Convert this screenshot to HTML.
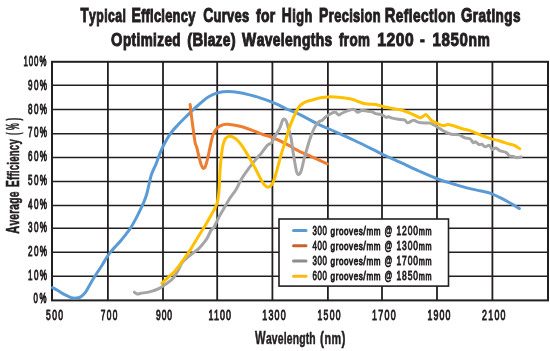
<!DOCTYPE html>
<html><head><meta charset="utf-8"><style>
html,body{margin:0;padding:0;background:#fff;width:550px;height:351px;overflow:hidden}
svg{display:block;font-family:"Liberation Sans", sans-serif;will-change:transform}
</style></head><body>
<svg width="550" height="351" viewBox="0 0 550 351">
<line x1="107.9" y1="61.8" x2="107.9" y2="300.4" stroke="#231f20" stroke-width="1.8"/>
<line x1="163.0" y1="61.8" x2="163.0" y2="300.4" stroke="#231f20" stroke-width="1.8"/>
<line x1="217.2" y1="61.8" x2="217.2" y2="300.4" stroke="#231f20" stroke-width="1.8"/>
<line x1="272.4" y1="61.8" x2="272.4" y2="300.4" stroke="#231f20" stroke-width="1.8"/>
<line x1="327.9" y1="61.8" x2="327.9" y2="300.4" stroke="#231f20" stroke-width="1.8"/>
<line x1="382.0" y1="61.8" x2="382.0" y2="300.4" stroke="#231f20" stroke-width="1.8"/>
<line x1="437.0" y1="61.8" x2="437.0" y2="300.4" stroke="#231f20" stroke-width="1.8"/>
<line x1="492.4" y1="61.8" x2="492.4" y2="300.4" stroke="#231f20" stroke-width="1.8"/>
<line x1="52" y1="85.3" x2="548" y2="85.3" stroke="#231f20" stroke-width="1.5"/>
<line x1="52" y1="109.4" x2="548" y2="109.4" stroke="#231f20" stroke-width="1.5"/>
<line x1="52" y1="133.8" x2="548" y2="133.8" stroke="#231f20" stroke-width="1.5"/>
<line x1="52" y1="157.4" x2="548" y2="157.4" stroke="#231f20" stroke-width="1.5"/>
<line x1="52" y1="181.4" x2="548" y2="181.4" stroke="#231f20" stroke-width="1.5"/>
<line x1="52" y1="205.4" x2="548" y2="205.4" stroke="#231f20" stroke-width="1.5"/>
<line x1="52" y1="228.3" x2="548" y2="228.3" stroke="#231f20" stroke-width="1.5"/>
<line x1="52" y1="252.3" x2="548" y2="252.3" stroke="#231f20" stroke-width="1.5"/>
<line x1="52" y1="276.3" x2="548" y2="276.3" stroke="#231f20" stroke-width="1.5"/>
<rect x="52" y="61.8" width="496" height="238.6" fill="none" stroke="#231f20" stroke-width="2"/>
<path d="M52.5,287.6 C53.5,288.1 56.3,289.6 58.3,290.8 C60.3,292.0 62.6,293.5 64.7,294.6 C66.8,295.7 69.2,297.0 71.1,297.6 C73.0,298.2 74.6,298.2 76.2,298.1 C77.8,298.0 79.2,297.8 80.7,296.9 C82.2,296.0 83.8,294.5 85.2,292.7 C86.6,290.9 87.7,288.6 89.0,286.3 C90.3,284.1 90.8,282.8 93.0,279.2 C95.2,275.6 100.0,268.4 102.2,265.0 C104.4,261.6 104.6,260.6 106.0,258.5 C107.4,256.4 108.7,254.3 110.5,252.1 C112.3,249.8 115.1,247.0 116.9,245.0 C118.7,243.0 119.9,241.8 121.4,240.0 C122.9,238.2 124.5,236.1 126.0,234.2 C127.5,232.2 128.8,230.8 130.4,228.3 C132.0,225.8 133.8,222.6 135.5,219.4 C137.2,216.2 139.3,211.9 140.6,209.1 C141.9,206.3 142.4,205.4 143.5,202.8 C144.6,200.2 145.6,198.1 146.9,193.5 C148.2,188.9 149.8,179.8 151.3,175.0 C152.8,170.2 154.4,168.0 155.8,164.6 C157.2,161.2 158.2,157.8 159.6,154.4 C161.0,151.0 162.3,147.8 164.1,144.3 C165.9,140.8 168.2,136.6 170.6,133.3 C173.0,130.0 176.0,127.0 178.3,124.4 C180.7,121.9 182.7,120.0 184.7,118.0 C186.7,116.0 188.6,114.1 190.5,112.3 C192.4,110.5 194.1,109.0 196.0,107.2 C197.9,105.5 199.8,103.6 202.0,101.8 C204.2,100.0 206.4,98.0 209.1,96.5 C211.8,95.0 214.8,93.5 218.0,92.7 C221.2,91.9 224.8,91.5 228.2,91.5 C231.6,91.5 235.0,92.0 238.4,92.5 C241.8,93.0 244.9,93.7 248.5,94.6 C252.1,95.5 255.5,96.3 260.0,97.8 C264.5,99.3 271.0,101.6 275.6,103.6 C280.2,105.5 283.5,107.7 287.6,109.5 C291.7,111.3 295.3,112.3 300.0,114.6 C304.7,116.9 311.4,120.8 316.0,123.1 C320.6,125.4 321.5,125.6 327.9,128.5 C334.3,131.4 345.3,136.2 354.5,140.5 C363.7,144.8 375.2,150.8 382.9,154.5 C390.5,158.2 394.2,159.6 400.4,162.4 C406.6,165.2 413.6,168.7 420.0,171.5 C426.4,174.3 433.7,177.5 439.1,179.5 C444.5,181.5 447.7,182.3 452.5,183.7 C457.3,185.1 462.9,186.9 467.7,188.1 C472.5,189.3 477.3,190.1 481.1,191.0 C484.9,191.9 487.4,192.2 490.6,193.3 C493.8,194.4 497.0,196.1 500.2,197.7 C503.4,199.3 506.5,201.0 509.7,202.8 C512.9,204.6 517.7,207.6 519.3,208.6" fill="none" stroke="#5b9bd5" stroke-width="3" stroke-linecap="round" stroke-linejoin="round"/>
<path d="M190.1,104.4 C190.3,106.1 190.8,110.4 191.3,114.7 C191.8,119.0 192.7,125.4 193.3,130.1 C194.0,134.8 194.6,140.1 195.2,143.0 C195.8,145.9 196.2,145.2 196.8,147.5 C197.4,149.8 198.2,153.8 199.0,156.8 C199.8,159.9 200.8,163.8 201.6,165.8 C202.3,167.8 202.9,168.5 203.5,168.6 C204.1,168.7 204.8,167.9 205.4,166.4 C206.1,164.9 206.7,162.5 207.4,159.4 C208.2,156.3 209.0,152.0 209.9,147.8 C210.8,143.7 211.8,137.9 213.1,134.5 C214.4,131.1 216.0,129.1 217.6,127.5 C219.2,125.9 221.0,125.4 222.7,124.9 C224.4,124.4 224.9,124.0 228.0,124.3 C231.1,124.6 236.6,125.3 241.1,126.5 C245.6,127.7 251.5,130.2 255.2,131.5 C258.8,132.8 260.1,133.5 263.0,134.5 C265.9,135.5 268.6,136.0 272.3,137.5 C276.0,139.0 281.1,141.2 285.1,143.3 C289.2,145.4 293.2,148.0 296.6,149.8 C300.0,151.6 302.0,152.5 305.6,154.2 C309.2,155.9 314.9,158.2 318.5,159.8 C322.1,161.4 325.8,163.1 327.3,163.8" fill="none" stroke="#ed7d31" stroke-width="3" stroke-linecap="round" stroke-linejoin="round"/>
<path d="M134.4,292.2 C134.9,292.5 136.1,293.9 137.2,294.1 C138.3,294.3 139.1,293.5 140.8,293.2 C142.5,292.9 145.1,292.8 147.2,292.4 C149.3,292.0 151.7,291.2 153.6,290.6 C155.5,290.0 156.9,289.6 158.8,288.6 C160.7,287.6 162.8,286.3 165.1,284.6 C167.4,282.9 170.5,281.2 172.8,278.5 C175.2,275.8 177.7,270.8 179.2,268.2 C180.7,265.6 180.5,264.8 181.8,263.1 C183.1,261.4 185.0,259.7 186.9,258.0 C188.8,256.3 191.4,254.3 193.3,252.8 C195.2,251.3 196.8,250.4 198.5,248.8 C200.2,247.2 202.1,245.0 203.5,243.2 C204.9,241.4 205.9,240.2 207.2,238.1 C208.4,236.0 209.9,232.2 211.0,230.4 C212.1,228.6 212.7,229.4 214.0,227.2 C215.3,224.9 217.4,220.1 219.1,216.9 C220.8,213.7 222.5,210.9 224.2,207.9 C225.9,204.9 227.5,202.0 229.4,199.0 C231.3,196.0 233.8,193.2 235.8,190.0 C237.8,186.8 239.7,182.2 241.2,179.5 C242.7,176.8 243.5,175.8 245.0,173.7 C246.5,171.6 248.5,168.8 250.1,166.7 C251.7,164.6 253.0,162.8 254.6,160.9 C256.2,159.0 258.5,156.5 259.7,155.1 C260.9,153.7 261.0,153.6 262.0,152.3 C263.0,151.0 264.7,148.5 265.8,147.2 C266.9,145.9 267.5,145.2 268.4,144.6 C269.3,143.9 270.1,144.2 271.0,143.3 C271.9,142.5 272.6,141.0 273.5,139.5 C274.4,138.0 275.0,136.3 276.1,134.4 C277.2,132.5 278.8,130.2 279.9,127.9 C281.0,125.6 281.8,121.8 282.5,120.3 C283.2,118.8 283.8,119.0 284.4,119.2 C285.0,119.4 285.8,120.0 286.4,121.5 C287.0,123.0 287.6,125.3 288.3,127.9 C289.0,130.5 290.1,133.2 290.8,136.9 C291.6,140.6 292.2,146.2 292.8,150.3 C293.4,154.5 294.1,158.2 294.7,161.8 C295.3,165.4 296.0,170.0 296.7,172.1 C297.4,174.2 297.9,174.8 298.6,174.6 C299.4,174.4 300.4,173.2 301.2,170.8 C302.0,168.5 302.8,164.1 303.7,160.5 C304.6,156.9 305.8,152.7 306.9,149.0 C308.0,145.3 308.9,141.9 310.1,138.5 C311.3,135.1 312.8,131.1 314.2,128.3 C315.6,125.5 317.4,123.2 318.7,121.9 C320.0,120.6 320.7,121.4 321.9,120.6 C323.1,119.8 324.3,118.0 325.8,116.8 C327.3,115.6 329.3,114.3 330.9,113.6 C332.5,112.8 334.1,112.1 335.4,112.3 C336.7,112.5 337.4,114.8 338.6,114.9 C339.8,115.0 340.7,113.8 342.4,113.0 C344.1,112.2 346.9,111.0 348.8,110.4 C350.7,109.8 352.3,109.1 353.8,109.4 C355.3,109.7 356.4,112.1 357.7,112.3 C359.0,112.5 360.0,110.8 361.5,110.6 C363.0,110.4 365.0,110.8 366.7,111.0 C368.4,111.2 370.3,111.3 371.8,111.7 C373.3,112.1 374.3,113.2 375.6,113.6 C376.9,114.0 378.2,113.9 379.5,114.2 C380.8,114.5 382.2,115.0 383.3,115.5 C384.4,116.0 385.0,117.2 385.9,117.4 C386.8,117.6 387.4,116.7 388.5,116.8 C389.6,116.9 390.7,117.7 392.3,118.1 C393.9,118.5 396.1,118.9 398.1,119.2 C400.1,119.5 402.9,119.3 404.5,119.9 C406.1,120.5 406.2,122.7 407.7,122.8 C409.2,122.9 411.7,120.4 413.5,120.3 C415.3,120.2 416.5,121.9 418.6,122.4 C420.7,122.9 424.4,123.0 426.3,123.1 C428.2,123.2 428.9,122.8 430.2,123.1 C431.5,123.4 432.4,124.1 434.0,125.0 C435.6,125.9 438.0,127.4 439.8,128.5 C441.6,129.6 443.1,130.8 445.0,131.7 C446.9,132.6 449.0,133.7 451.4,134.2 C453.8,134.7 457.2,134.5 459.1,134.9 C461.0,135.3 461.8,136.3 462.9,136.8 C464.0,137.3 464.3,137.8 465.5,138.1 C466.7,138.4 468.7,137.9 470.0,138.7 C471.3,139.4 472.2,142.1 473.2,142.6 C474.1,143.1 474.8,141.6 475.7,141.9 C476.6,142.2 477.9,144.1 478.9,144.5 C479.9,144.9 480.8,143.8 481.8,144.2 C482.8,144.6 483.8,146.6 485.1,146.8 C486.4,147.0 488.3,144.9 489.5,145.3 C490.7,145.7 491.0,148.9 492.1,149.4 C493.2,149.9 494.6,147.9 495.9,148.1 C497.2,148.3 498.1,149.8 499.8,150.6 C501.5,151.3 504.6,151.7 506.2,152.6 C507.8,153.5 508.2,155.2 509.4,155.8 C510.6,156.4 512.1,156.1 513.3,156.4 C514.5,156.7 515.2,157.6 516.5,157.7 C517.8,157.8 520.2,157.2 520.9,157.1" fill="none" stroke="#a5a5a5" stroke-width="3" stroke-linecap="round" stroke-linejoin="round"/>
<path d="M161.9,283.3 C162.9,282.4 165.7,279.7 167.7,277.8 C169.7,275.9 172.2,274.1 174.1,272.1 C176.0,270.1 177.3,268.2 179.2,265.6 C181.1,263.0 183.7,259.4 185.6,256.7 C187.5,254.0 188.4,252.9 190.5,249.6 C192.6,246.3 195.8,240.7 198.2,236.8 C200.5,233.0 202.6,229.8 204.6,226.5 C206.6,223.2 208.3,220.1 210.1,216.9 C211.9,213.7 214.0,210.1 215.3,207.3 C216.6,204.5 217.2,203.5 217.8,200.3 C218.5,197.1 218.8,192.6 219.2,188.0 C219.5,183.4 219.6,178.1 219.9,173.0 C220.2,167.9 220.7,162.2 221.2,157.5 C221.7,152.8 222.3,147.9 223.1,144.7 C223.8,141.5 224.5,139.7 225.7,138.3 C226.9,136.9 228.5,136.2 230.2,136.3 C231.9,136.4 234.1,137.5 235.9,138.9 C237.7,140.3 239.4,142.4 241.1,144.7 C242.8,146.9 244.5,149.6 246.2,152.4 C247.9,155.2 249.8,158.7 251.3,161.3 C252.8,163.9 253.6,165.2 255.1,168.0 C256.6,170.8 258.8,175.4 260.3,178.2 C261.8,181.0 262.8,183.1 264.1,184.6 C265.4,186.1 266.6,187.2 267.9,187.2 C269.2,187.2 270.6,186.3 271.8,184.6 C273.0,182.9 273.9,180.1 275.0,176.9 C276.1,173.7 277.1,169.2 278.2,165.4 C279.3,161.6 280.2,157.7 281.4,153.8 C282.5,149.9 283.9,146.1 285.1,142.0 C286.4,137.9 287.6,133.0 288.9,129.2 C290.2,125.4 291.1,122.7 292.8,119.0 C294.5,115.3 296.9,109.9 298.8,107.2 C300.7,104.5 301.9,103.9 304.0,102.7 C306.1,101.5 308.9,100.9 311.7,100.1 C314.5,99.3 317.8,98.3 320.6,97.8 C323.4,97.3 325.3,97.0 328.3,96.9 C331.3,96.8 335.0,97.0 338.6,97.3 C342.2,97.6 347.0,98.2 350.0,98.8 C353.0,99.4 354.3,100.0 356.4,100.8 C358.5,101.5 360.7,102.7 362.8,103.3 C364.9,103.9 367.1,104.0 369.2,104.2 C371.3,104.4 373.7,104.2 375.6,104.5 C377.5,104.8 379.1,105.5 380.8,105.9 C382.5,106.4 383.9,106.8 385.9,107.2 C387.9,107.6 390.8,108.1 393.0,108.5 C395.2,108.9 397.3,109.1 399.4,109.6 C401.5,110.1 403.7,110.8 405.8,111.5 C407.9,112.2 409.9,113.1 412.2,114.1 C414.5,115.1 418.2,117.3 419.9,117.7 C421.6,118.1 421.5,117.2 422.5,116.7 C423.5,116.2 424.7,114.6 425.7,114.6 C426.7,114.6 427.3,115.7 428.3,116.7 C429.3,117.7 430.3,119.5 431.5,120.5 C432.7,121.5 433.9,121.7 435.3,122.4 C436.7,123.1 438.4,124.1 439.8,124.6 C441.2,125.1 442.3,125.6 443.7,125.6 C445.1,125.6 446.3,124.4 448.2,124.5 C450.1,124.6 453.0,125.6 455.2,126.3 C457.4,127.0 459.2,127.8 461.6,128.5 C464.0,129.2 467.0,129.7 469.3,130.4 C471.6,131.2 473.2,132.0 475.7,133.0 C478.2,134.0 481.7,135.5 484.4,136.5 C487.1,137.5 489.5,138.3 492.1,139.1 C494.7,139.8 497.2,140.2 499.8,141.0 C502.4,141.8 505.1,142.8 507.5,143.6 C509.9,144.3 512.5,144.7 514.5,145.5 C516.5,146.3 518.8,148.2 519.7,148.7" fill="none" stroke="#ffc000" stroke-width="3" stroke-linecap="round" stroke-linejoin="round"/>
<rect x="279" y="219" width="169.5" height="67.1" fill="#fff" stroke="#231f20" stroke-width="1.6"/>
<line x1="293.5" y1="230.5" x2="306" y2="230.5" stroke="#5b9bd5" stroke-width="3" stroke-linecap="round"/>
<line x1="293.5" y1="245.7" x2="306" y2="245.7" stroke="#c8642b" stroke-width="3" stroke-linecap="round"/>
<line x1="293.5" y1="261.0" x2="306" y2="261.0" stroke="#8c8c8c" stroke-width="3" stroke-linecap="round"/>
<line x1="293.5" y1="276.3" x2="306" y2="276.3" stroke="#fdb913" stroke-width="3" stroke-linecap="round"/>
<text transform="translate(80.50,22.00) scale(0.682,1)" textLength="66.75" lengthAdjust="spacing" font-size="19.48" font-weight="bold" fill="#231f20" stroke="#231f20" stroke-width="1.0" vector-effect="non-scaling-stroke"><tspan font-size="19.48">T</tspan><tspan font-size="17.92">ypical</tspan></text>
<text transform="translate(131.40,22.00) scale(0.724,1)" textLength="88.40" lengthAdjust="spacing" font-size="19.48" font-weight="bold" fill="#231f20" stroke="#231f20" stroke-width="1.0" vector-effect="non-scaling-stroke"><tspan font-size="19.48">E</tspan><tspan font-size="17.92">fficiency</tspan></text>
<text transform="translate(203.20,22.00) scale(0.720,1)" textLength="63.88" lengthAdjust="spacing" font-size="19.48" font-weight="bold" fill="#231f20" stroke="#231f20" stroke-width="1.0" vector-effect="non-scaling-stroke"><tspan font-size="19.48">C</tspan><tspan font-size="17.92">urves</tspan></text>
<text transform="translate(256.10,22.00) scale(0.780,1)" textLength="24.36" lengthAdjust="spacing" font-size="19.48" font-weight="bold" fill="#231f20" stroke="#231f20" stroke-width="1.0" vector-effect="non-scaling-stroke"><tspan font-size="17.92">for</tspan></text>
<text transform="translate(281.80,22.00) scale(0.711,1)" textLength="42.91" lengthAdjust="spacing" font-size="19.48" font-weight="bold" fill="#231f20" stroke="#231f20" stroke-width="1.0" vector-effect="non-scaling-stroke"><tspan font-size="19.48">H</tspan><tspan font-size="17.92">igh</tspan></text>
<text transform="translate(319.10,22.00) scale(0.718,1)" textLength="85.63" lengthAdjust="spacing" font-size="19.48" font-weight="bold" fill="#231f20" stroke="#231f20" stroke-width="1.0" vector-effect="non-scaling-stroke"><tspan font-size="19.48">P</tspan><tspan font-size="17.92">recision</tspan></text>
<text transform="translate(384.70,22.00) scale(0.759,1)" textLength="92.94" lengthAdjust="spacing" font-size="19.48" font-weight="bold" fill="#231f20" stroke="#231f20" stroke-width="1.0" vector-effect="non-scaling-stroke"><tspan font-size="19.48">R</tspan><tspan font-size="17.92">eflection</tspan></text>
<text transform="translate(461.00,22.00) scale(0.755,1)" textLength="78.77" lengthAdjust="spacing" font-size="19.48" font-weight="bold" fill="#231f20" stroke="#231f20" stroke-width="1.0" vector-effect="non-scaling-stroke"><tspan font-size="19.48">G</tspan><tspan font-size="17.92">ratings</tspan></text>
<text transform="translate(111.10,45.90) scale(0.767,1)" textLength="90.61" lengthAdjust="spacing" font-size="19.19" font-weight="bold" fill="#231f20" stroke="#231f20" stroke-width="1.0" vector-effect="non-scaling-stroke"><tspan font-size="19.19">O</tspan><tspan font-size="17.65">ptimized</tspan></text>
<text transform="translate(187.20,45.90) scale(0.776,1)" textLength="62.48" lengthAdjust="spacing" font-size="19.19" font-weight="bold" fill="#231f20" stroke="#231f20" stroke-width="1.0" vector-effect="non-scaling-stroke"><tspan font-size="19.19">(B</tspan><tspan font-size="17.65">laze</tspan><tspan font-size="19.19">)</tspan></text>
<text transform="translate(242.10,45.90) scale(0.782,1)" textLength="115.15" lengthAdjust="spacing" font-size="19.19" font-weight="bold" fill="#231f20" stroke="#231f20" stroke-width="1.0" vector-effect="non-scaling-stroke"><tspan font-size="19.19">W</tspan><tspan font-size="17.65">avelengths</tspan></text>
<text transform="translate(338.90,45.90) scale(0.759,1)" textLength="40.84" lengthAdjust="spacing" font-size="19.19" font-weight="bold" fill="#231f20" stroke="#231f20" stroke-width="1.0" vector-effect="non-scaling-stroke"><tspan font-size="17.65">from</tspan></text>
<text transform="translate(377.20,45.90) scale(0.816,1)" textLength="44.71" lengthAdjust="spacing" font-size="19.19" font-weight="bold" fill="#231f20" stroke="#231f20" stroke-width="1.0" vector-effect="non-scaling-stroke"><tspan font-size="19.19">1200</tspan></text>
<text transform="translate(420.00,45.90) scale(0.751,1)" textLength="6.66" lengthAdjust="spacing" font-size="19.19" font-weight="bold" fill="#231f20" stroke="#231f20" stroke-width="1.0" vector-effect="non-scaling-stroke"><tspan font-size="19.19">-</tspan></text>
<text transform="translate(432.50,45.90) scale(0.787,1)" textLength="73.05" lengthAdjust="spacing" font-size="19.19" font-weight="bold" fill="#231f20" stroke="#231f20" stroke-width="1.0" vector-effect="non-scaling-stroke"><tspan font-size="19.19">1850</tspan><tspan font-size="17.65">nm</tspan></text>
<text transform="translate(23.40,66.33) scale(0.559,1)" textLength="41.11" lengthAdjust="spacing" font-size="14.03" font-weight="normal" fill="#231f20" stroke="#231f20" stroke-width="0.95" vector-effect="non-scaling-stroke"><tspan font-size="14.03">100%</tspan></text>
<text transform="translate(28.00,90.03) scale(0.576,1)" textLength="33.01" lengthAdjust="spacing" font-size="14.03" font-weight="normal" fill="#231f20" stroke="#231f20" stroke-width="0.95" vector-effect="non-scaling-stroke"><tspan font-size="14.03">90%</tspan></text>
<text transform="translate(28.00,113.73) scale(0.576,1)" textLength="33.01" lengthAdjust="spacing" font-size="14.03" font-weight="normal" fill="#231f20" stroke="#231f20" stroke-width="0.95" vector-effect="non-scaling-stroke"><tspan font-size="14.03">80%</tspan></text>
<text transform="translate(28.00,137.43) scale(0.576,1)" textLength="33.01" lengthAdjust="spacing" font-size="14.03" font-weight="normal" fill="#231f20" stroke="#231f20" stroke-width="0.95" vector-effect="non-scaling-stroke"><tspan font-size="14.03">70%</tspan></text>
<text transform="translate(28.00,161.13) scale(0.576,1)" textLength="33.01" lengthAdjust="spacing" font-size="14.03" font-weight="normal" fill="#231f20" stroke="#231f20" stroke-width="0.95" vector-effect="non-scaling-stroke"><tspan font-size="14.03">60%</tspan></text>
<text transform="translate(28.00,184.83) scale(0.576,1)" textLength="33.01" lengthAdjust="spacing" font-size="14.03" font-weight="normal" fill="#231f20" stroke="#231f20" stroke-width="0.95" vector-effect="non-scaling-stroke"><tspan font-size="14.03">50%</tspan></text>
<text transform="translate(28.00,208.53) scale(0.576,1)" textLength="33.01" lengthAdjust="spacing" font-size="14.03" font-weight="normal" fill="#231f20" stroke="#231f20" stroke-width="0.95" vector-effect="non-scaling-stroke"><tspan font-size="14.03">40%</tspan></text>
<text transform="translate(28.00,232.23) scale(0.576,1)" textLength="33.01" lengthAdjust="spacing" font-size="14.03" font-weight="normal" fill="#231f20" stroke="#231f20" stroke-width="0.95" vector-effect="non-scaling-stroke"><tspan font-size="14.03">30%</tspan></text>
<text transform="translate(28.00,255.92) scale(0.576,1)" textLength="33.01" lengthAdjust="spacing" font-size="14.03" font-weight="normal" fill="#231f20" stroke="#231f20" stroke-width="0.95" vector-effect="non-scaling-stroke"><tspan font-size="14.03">20%</tspan></text>
<text transform="translate(28.00,279.62) scale(0.576,1)" textLength="33.01" lengthAdjust="spacing" font-size="14.03" font-weight="normal" fill="#231f20" stroke="#231f20" stroke-width="0.95" vector-effect="non-scaling-stroke"><tspan font-size="14.03">10%</tspan></text>
<text transform="translate(33.60,303.32) scale(0.562,1)" textLength="23.13" lengthAdjust="spacing" font-size="14.03" font-weight="normal" fill="#231f20" stroke="#231f20" stroke-width="0.95" vector-effect="non-scaling-stroke"><tspan font-size="14.03">0%</tspan></text>
<text transform="translate(46.10,319.82) scale(0.623,1)" textLength="27.29" lengthAdjust="spacing" font-size="13.74" font-weight="normal" fill="#231f20" stroke="#231f20" stroke-width="0.95" vector-effect="non-scaling-stroke"><tspan font-size="13.74">500</tspan></text>
<text transform="translate(100.80,319.82) scale(0.604,1)" textLength="27.30" lengthAdjust="spacing" font-size="13.74" font-weight="normal" fill="#231f20" stroke="#231f20" stroke-width="0.95" vector-effect="non-scaling-stroke"><tspan font-size="13.74">700</tspan></text>
<text transform="translate(156.00,319.82) scale(0.616,1)" textLength="25.99" lengthAdjust="spacing" font-size="13.74" font-weight="normal" fill="#231f20" stroke="#231f20" stroke-width="0.95" vector-effect="non-scaling-stroke"><tspan font-size="13.74">900</tspan></text>
<text transform="translate(208.50,319.82) scale(0.647,1)" textLength="34.76" lengthAdjust="spacing" font-size="13.74" font-weight="normal" fill="#231f20" stroke="#231f20" stroke-width="0.95" vector-effect="non-scaling-stroke"><tspan font-size="13.74">1100</tspan></text>
<text transform="translate(262.20,319.82) scale(0.648,1)" textLength="36.26" lengthAdjust="spacing" font-size="13.74" font-weight="normal" fill="#231f20" stroke="#231f20" stroke-width="0.95" vector-effect="non-scaling-stroke"><tspan font-size="13.74">1300</tspan></text>
<text transform="translate(317.50,319.82) scale(0.629,1)" textLength="36.59" lengthAdjust="spacing" font-size="13.74" font-weight="normal" fill="#231f20" stroke="#231f20" stroke-width="0.95" vector-effect="non-scaling-stroke"><tspan font-size="13.74">1500</tspan></text>
<text transform="translate(372.10,319.82) scale(0.648,1)" textLength="36.26" lengthAdjust="spacing" font-size="13.74" font-weight="normal" fill="#231f20" stroke="#231f20" stroke-width="0.95" vector-effect="non-scaling-stroke"><tspan font-size="13.74">1700</tspan></text>
<text transform="translate(427.40,319.82) scale(0.640,1)" textLength="35.96" lengthAdjust="spacing" font-size="13.74" font-weight="normal" fill="#231f20" stroke="#231f20" stroke-width="0.95" vector-effect="non-scaling-stroke"><tspan font-size="13.74">1900</tspan></text>
<text transform="translate(482.00,319.82) scale(0.642,1)" textLength="36.58" lengthAdjust="spacing" font-size="13.74" font-weight="normal" fill="#231f20" stroke="#231f20" stroke-width="0.95" vector-effect="non-scaling-stroke"><tspan font-size="13.74">2100</tspan></text>
<text transform="translate(255.10,343.83) scale(0.632,1)" textLength="95.75" lengthAdjust="spacing" font-size="17.81" font-weight="bold" fill="#231f20" stroke="#231f20" stroke-width="0.55" vector-effect="non-scaling-stroke"><tspan font-size="17.81">W</tspan><tspan font-size="16.38">avelength</tspan></text>
<text transform="translate(320.00,343.83) scale(0.663,1)" textLength="38.45" lengthAdjust="spacing" font-size="17.81" font-weight="bold" fill="#231f20" stroke="#231f20" stroke-width="0.55" vector-effect="non-scaling-stroke"><tspan font-size="17.81">(</tspan><tspan font-size="16.38">nm</tspan><tspan font-size="17.81">)</tspan></text>
<text transform="translate(18.53,0) rotate(-90) translate(-233.70,0) scale(0.621,1)" textLength="67.65" lengthAdjust="spacing" font-size="17.81" font-weight="bold" fill="#231f20" stroke="#231f20" stroke-width="0.55" vector-effect="non-scaling-stroke"><tspan font-size="17.81">A</tspan><tspan font-size="16.38">verage</tspan></text>
<text transform="translate(18.53,0) rotate(-90) translate(-187.20,0) scale(0.590,1)" textLength="81.35" lengthAdjust="spacing" font-size="17.81" font-weight="bold" fill="#231f20" stroke="#231f20" stroke-width="0.55" vector-effect="non-scaling-stroke"><tspan font-size="17.81">E</tspan><tspan font-size="16.38">fficiency</tspan></text>
<text transform="translate(18.53,0) rotate(-90) translate(-135.00,0) scale(0.426,1)" textLength="39.86" lengthAdjust="spacing" font-size="17.81" font-weight="bold" fill="#231f20" stroke="#231f20" stroke-width="0.55" vector-effect="non-scaling-stroke"><tspan font-size="17.81">(%)</tspan></text>
<text transform="translate(312.50,234.57) scale(0.616,1)" textLength="23.53" lengthAdjust="spacing" font-size="12.86" font-weight="normal" fill="#231f20" stroke="#231f20" stroke-width="0.85" vector-effect="non-scaling-stroke"><tspan font-size="12.86">300</tspan></text>
<text transform="translate(330.60,234.57) scale(0.734,1)" textLength="68.11" lengthAdjust="spacing" font-size="12.86" font-weight="normal" fill="#231f20" stroke="#231f20" stroke-width="0.85" vector-effect="non-scaling-stroke"><tspan font-size="11.06">grooves</tspan><tspan font-size="12.86">/</tspan><tspan font-size="11.06">mm</tspan></text>
<text transform="translate(384.40,234.57) scale(0.593,1)" textLength="25.31" lengthAdjust="spacing" font-size="12.86" font-weight="normal" fill="#231f20" stroke="#231f20" stroke-width="0.85" vector-effect="non-scaling-stroke"><tspan font-size="12.86">@</tspan></text>
<text transform="translate(396.60,234.57) scale(0.659,1)" textLength="53.15" lengthAdjust="spacing" font-size="12.86" font-weight="normal" fill="#231f20" stroke="#231f20" stroke-width="0.85" vector-effect="non-scaling-stroke"><tspan font-size="12.86">1200</tspan><tspan font-size="11.06">mm</tspan></text>
<text transform="translate(312.50,249.77) scale(0.616,1)" textLength="23.53" lengthAdjust="spacing" font-size="12.86" font-weight="normal" fill="#231f20" stroke="#231f20" stroke-width="0.85" vector-effect="non-scaling-stroke"><tspan font-size="12.86">400</tspan></text>
<text transform="translate(330.60,249.77) scale(0.734,1)" textLength="68.11" lengthAdjust="spacing" font-size="12.86" font-weight="normal" fill="#231f20" stroke="#231f20" stroke-width="0.85" vector-effect="non-scaling-stroke"><tspan font-size="11.06">grooves</tspan><tspan font-size="12.86">/</tspan><tspan font-size="11.06">mm</tspan></text>
<text transform="translate(384.40,249.77) scale(0.593,1)" textLength="25.31" lengthAdjust="spacing" font-size="12.86" font-weight="normal" fill="#231f20" stroke="#231f20" stroke-width="0.85" vector-effect="non-scaling-stroke"><tspan font-size="12.86">@</tspan></text>
<text transform="translate(396.60,249.77) scale(0.659,1)" textLength="53.15" lengthAdjust="spacing" font-size="12.86" font-weight="normal" fill="#231f20" stroke="#231f20" stroke-width="0.85" vector-effect="non-scaling-stroke"><tspan font-size="12.86">1300</tspan><tspan font-size="11.06">mm</tspan></text>
<text transform="translate(312.50,265.07) scale(0.616,1)" textLength="23.53" lengthAdjust="spacing" font-size="12.86" font-weight="normal" fill="#231f20" stroke="#231f20" stroke-width="0.85" vector-effect="non-scaling-stroke"><tspan font-size="12.86">300</tspan></text>
<text transform="translate(330.60,265.07) scale(0.734,1)" textLength="68.11" lengthAdjust="spacing" font-size="12.86" font-weight="normal" fill="#231f20" stroke="#231f20" stroke-width="0.85" vector-effect="non-scaling-stroke"><tspan font-size="11.06">grooves</tspan><tspan font-size="12.86">/</tspan><tspan font-size="11.06">mm</tspan></text>
<text transform="translate(384.40,265.07) scale(0.593,1)" textLength="25.31" lengthAdjust="spacing" font-size="12.86" font-weight="normal" fill="#231f20" stroke="#231f20" stroke-width="0.85" vector-effect="non-scaling-stroke"><tspan font-size="12.86">@</tspan></text>
<text transform="translate(396.60,265.07) scale(0.659,1)" textLength="53.15" lengthAdjust="spacing" font-size="12.86" font-weight="normal" fill="#231f20" stroke="#231f20" stroke-width="0.85" vector-effect="non-scaling-stroke"><tspan font-size="12.86">1700</tspan><tspan font-size="11.06">mm</tspan></text>
<text transform="translate(312.50,280.38) scale(0.616,1)" textLength="23.53" lengthAdjust="spacing" font-size="12.86" font-weight="normal" fill="#231f20" stroke="#231f20" stroke-width="0.85" vector-effect="non-scaling-stroke"><tspan font-size="12.86">600</tspan></text>
<text transform="translate(330.60,280.38) scale(0.734,1)" textLength="68.11" lengthAdjust="spacing" font-size="12.86" font-weight="normal" fill="#231f20" stroke="#231f20" stroke-width="0.85" vector-effect="non-scaling-stroke"><tspan font-size="11.06">grooves</tspan><tspan font-size="12.86">/</tspan><tspan font-size="11.06">mm</tspan></text>
<text transform="translate(384.40,280.38) scale(0.593,1)" textLength="25.31" lengthAdjust="spacing" font-size="12.86" font-weight="normal" fill="#231f20" stroke="#231f20" stroke-width="0.85" vector-effect="non-scaling-stroke"><tspan font-size="12.86">@</tspan></text>
<text transform="translate(396.60,280.38) scale(0.659,1)" textLength="53.15" lengthAdjust="spacing" font-size="12.86" font-weight="normal" fill="#231f20" stroke="#231f20" stroke-width="0.85" vector-effect="non-scaling-stroke"><tspan font-size="12.86">1850</tspan><tspan font-size="11.06">mm</tspan></text>
</svg>
</body></html>
